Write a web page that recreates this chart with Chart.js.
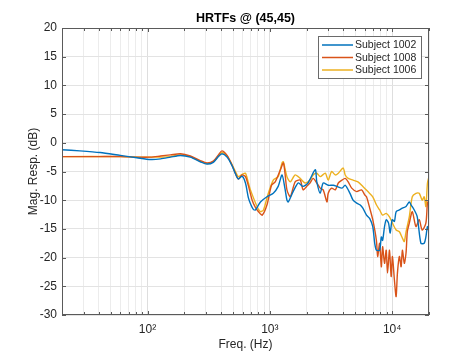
<!DOCTYPE html>
<html><head><meta charset="utf-8">
<script src="https://cdn.jsdelivr.net/npm/chart.js@4/dist/chart.umd.min.js"></script>
<style>html,body{margin:0;padding:0;background:#fff}</style>
</head><body>
<canvas id="c" width="474" height="355"></canvas>
<script>
const chartTitle = 'HRTFs @ (45,45)';
const seriesNames = ['Subject 1002', 'Subject 1008', 'Subject 1006'];
const seriesColors = ['#0072BD', '#D95319', '#EDB120'];

const freq1002 = [20,28,41,60,82,106,128,154,186,224,270,306,345,380,406,447,491,523,553,593,632,668,700,733,762,800,838,948,1067,1170,1258,1330,1380,1415,1550,1710,1870,2050,2350,2420,2580,2730,3000,3300,3540,3890,4130,4520,4790,5130,5450,5760,6170,6560,6940,7200,7430,7900,8150,8350,8660,8940,9340,9630,10000,10430,10770,11460,12120,12980,13800,14250,15150,16030,17170,18270,18860,19430,20000];
const mag1002  = [-1.2,-1.4,-1.7,-2.2,-2.6,-2.9,-2.8,-2.5,-2.2,-2.5,-3.3,-3.7,-3.4,-2.4,-1.9,-2.5,-4.0,-5.4,-6.3,-5.8,-7.0,-9.6,-10.8,-11.6,-11.7,-11.0,-10.3,-9.4,-8.8,-7.6,-5.6,-8.0,-10.0,-10.3,-8.5,-7.0,-7.6,-7.0,-4.7,-6.8,-8.8,-7.0,-7.4,-7.4,-7.6,-7.9,-7.4,-8.8,-10.0,-10.5,-10.8,-11.4,-12.6,-13.2,-14.6,-17.5,-18.7,-18.7,-16.4,-17.0,-14.6,-13.4,-14.0,-15.7,-13.4,-13.7,-12.0,-11.7,-11.4,-11.1,-10.3,-10.8,-11.7,-12.9,-17.5,-17.5,-16.4,-14.6,-15.5];

const freq1008 = [20,40,60,82,106,128,154,186,224,270,306,345,380,406,447,491,523,553,593,632,668,717,760,808,866,948,1032,1106,1220,1290,1330,1380,1470,1610,1770,1870,2000,2130,2260,2420,2580,2730,2930,3000,3200,3430,3630,3890,4130,4370,4670,5130,5620,5980,6170,6560,6940,7430,7610,7900,8150,8350,8660,8940,9160,9510,9810,10050,10430,10770,11040,11460,11830,12120,12570,12980,13300,13800,14600,15640,16630,17600,18860,19430,20000];
const mag1008  = [-2.4,-2.4,-2.4,-2.5,-2.5,-2.3,-2.1,-1.9,-2.3,-3.1,-3.5,-3.2,-2.1,-1.4,-2.2,-3.9,-5.3,-6.3,-5.6,-5.9,-7.5,-10.0,-11.2,-12.0,-12.6,-10.8,-7.4,-6.8,-4.7,-3.5,-5.3,-8.2,-9.4,-6.8,-6.5,-8.2,-7.6,-7.0,-6.2,-7.0,-7.9,-8.2,-10.3,-8.8,-7.9,-8.2,-7.0,-6.5,-6.2,-6.8,-7.9,-8.5,-8.2,-9.1,-9.4,-11.4,-13.4,-17.0,-19.8,-17.5,-21.6,-18.1,-21.0,-18.7,-22.7,-18.7,-23.3,-19.8,-23.9,-26.8,-22.7,-19.8,-21.6,-18.7,-21.0,-19.2,-15.5,-14.0,-12.0,-14.6,-13.4,-15.2,-14.0,-10.5,-10.0];

const freq1006 = [20,60,106,154,186,224,270,306,345,380,406,447,491,523,553,593,632,668,694,786,838,887,972,1067,1170,1258,1290,1380,1470,1610,1770,1940,2130,2260,2420,2580,2840,3000,3200,3430,3630,3980,4130,4370,4790,5250,5760,6330,6940,7430,7900,8350,8940,9510,10050,10770,11460,12120,12570,12980,13800,14600,15640,16630,17600,18270,18860,19430,20000];
const mag1006  = [-2.4,-2.4,-2.5,-2.4,-2.1,-2.4,-3.2,-3.6,-3.3,-2.3,-1.7,-2.3,-3.8,-5.0,-5.9,-5.5,-5.3,-7.0,-8.2,-11.1,-12.0,-11.7,-8.8,-6.5,-5.9,-3.5,-3.3,-5.9,-6.8,-5.6,-6.2,-7.0,-6.5,-5.6,-5.3,-5.9,-5.3,-6.5,-5.0,-5.6,-5.3,-4.4,-5.6,-6.2,-6.5,-6.8,-7.6,-8.5,-9.4,-10.8,-11.7,-12.6,-12.3,-12.9,-14.0,-15.2,-15.5,-16.6,-17.2,-15.5,-12.9,-9.4,-8.8,-8.8,-10.0,-9.4,-11.1,-7.0,-5.9];

const yTickValues = [-30,-25,-20,-15,-10,-5,0,5,10,15,20];
const xTickValues = [20,30,40,50,60,70,80,90,100,200,300,400,500,600,700,800,900,1000,2000,3000,4000,5000,6000,7000,8000,9000,10000,20000];
const xTickLabels = {100:'10\u00B2', 1000:'10\u00B3', 10000:'10\u2074'};
const xMajor = [100,1000,10000];

const pts = (f, m) => f.map((v, i) => ({x: v, y: m[i]}));
const allFreq = [freq1002, freq1008, freq1006];
const allMag = [mag1002, mag1008, mag1006];

const TEXT = '#262626';
const FONT = "'Liberation Sans', Arial, Helvetica, sans-serif";

const decor = {
  id: 'decor',
  afterDatasetsDraw(chart) {
    const {ctx, chartArea: a, scales} = chart;
    ctx.save();
    // box
    ctx.strokeStyle = '#5a5a5a';
    ctx.lineWidth = 1;
    ctx.strokeRect(a.left + 0.5, a.top + 0.5, a.right - a.left - 1, a.bottom - a.top - 1);
    // inward ticks
    ctx.beginPath();
    const tl = 4;
    yTickValues.forEach(v => {
      const y = Math.round(scales.y.getPixelForValue(v)) + 0.5;
      ctx.moveTo(a.left, y); ctx.lineTo(a.left + tl, y);
      ctx.moveTo(a.right, y); ctx.lineTo(a.right - tl, y);
    });
    xTickValues.forEach(v => {
      const x = Math.round(scales.x.getPixelForValue(v)) + 0.5;
      const l = xMajor.includes(v) ? tl : 3;
      ctx.moveTo(x, a.bottom); ctx.lineTo(x, a.bottom - l);
      ctx.moveTo(x, a.top); ctx.lineTo(x, a.top + l);
    });
    ctx.stroke();
    // title
    ctx.fillStyle = '#000';
    ctx.font = 'bold 12.5px ' + FONT;
    ctx.textAlign = 'center';
    ctx.textBaseline = 'middle';
    ctx.fillText(chartTitle, (a.left + a.right) / 2, 19);
    // legend
    const bx = 318, by = 36, bw = 103, bh = 42;
    ctx.fillStyle = '#fff';
    ctx.fillRect(bx, by, bw, bh);
    ctx.strokeStyle = '#6a6a6a';
    ctx.strokeRect(bx + 0.5, by + 0.5, bw, bh);
    ctx.font = '10.5px ' + FONT;
    ctx.textAlign = 'left';
    chart.data.datasets.forEach((ds, i) => {
      const y = by + 9 + i * 12.5;
      ctx.strokeStyle = ds.borderColor;
      ctx.lineWidth = 1.5;
      ctx.beginPath(); ctx.moveTo(bx + 4, y); ctx.lineTo(bx + 35, y); ctx.stroke();
      ctx.fillStyle = TEXT;
      ctx.fillText(ds.label, bx + 37, y + 0.5);
    });
    ctx.restore();
  }
};

new Chart(document.getElementById('c'), {
  type: 'line',
  data: {
    datasets: seriesNames.map((n, i) => ({
      label: n,
      data: pts(allFreq[i], allMag[i]),
      borderColor: seriesColors[i],
      backgroundColor: seriesColors[i],
      borderWidth: 1.4,
      pointRadius: 0,
      tension: 0.25,
      fill: false
    }))
  },
  options: {
    responsive: false,
    animation: false,
    layout: {padding: {top: 28, right: 45, bottom: 0, left: 0}},
    plugins: {legend: {display: false}, tooltip: {enabled: false}, title: {display: false}},
    scales: {
      x: {
        type: 'logarithmic', min: 20, max: 20000,
        afterBuildTicks: s => { s.ticks = xTickValues.map(v => ({value: v})); },
        afterFit: s => { s.height = 40; },
        ticks: {
          autoSkip: false, maxRotation: 0, padding: 7, color: TEXT,
          font: {size: 12, family: FONT},
          callback: v => xTickLabels[v] || ''
        },
        grid: {
          drawTicks: false,
          color: c => xMajor.includes(c.tick && c.tick.value) ? '#dedede' : '#ececec'
        },
        border: {display: false},
        title: {display: true, text: 'Freq. (Hz)', color: TEXT, font: {size: 12, family: FONT}, padding: {top: 0, bottom: 3}}
      },
      y: {
        min: -30, max: 20,
        afterBuildTicks: s => { s.ticks = yTickValues.map(v => ({value: v})); },
        afterFit: s => { s.width = 62; },
        ticks: {padding: 5, color: TEXT, font: {size: 12, family: FONT}},
        grid: {drawTicks: false, color: '#e3e3e3'},
        border: {display: false},
        title: {display: true, text: 'Mag. Resp. (dB)', color: TEXT, font: {size: 12, family: FONT}, padding: {top: 26, bottom: 0}}
      }
    }
  },
  plugins: [decor]
});
</script>
</body></html>
